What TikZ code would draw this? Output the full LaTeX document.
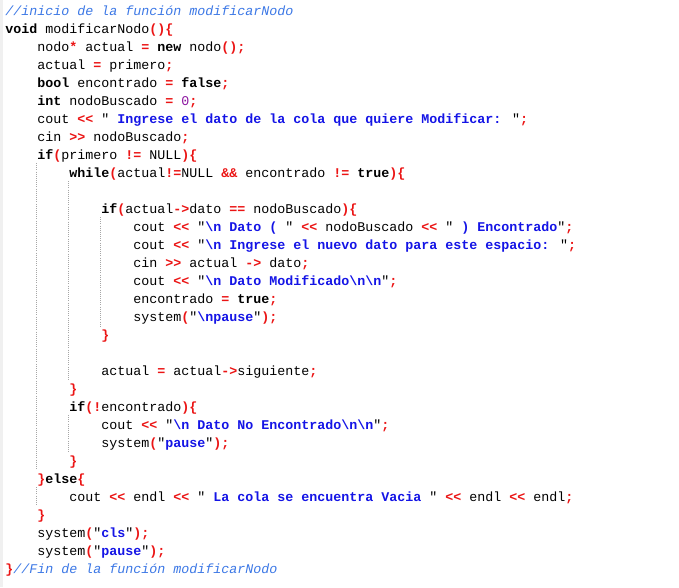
\documentclass[tikz,border=0pt]{standalone}
\usepackage{fontspec}
\newfontfamily\code{Liberation Mono}
\definecolor{cmt}{RGB}{60,120,230}
\definecolor{opr}{RGB}{235,20,20}
\definecolor{strc}{RGB}{20,20,230}
\definecolor{numc}{RGB}{140,20,160}
\newcommand{\op}[1]{{\color{opr}\bfseries #1}}
\newcommand{\kw}[1]{{\bfseries #1}}
\newcommand{\st}[1]{"{\color{strc}\bfseries #1}"}
\newcommand{\cm}[1]{{\color{cmt}\itshape #1}}
\newcommand{\bsl}{\textbackslash}
\newcommand{\ltlt}{<\kern0pt<}
\newcommand{\gtgt}{>\kern0pt>}
\newcommand{\codeline}[3]{\node[ln] (l#1) at ({5+8*#2},{15+18*(#1-1)}) {#3};}
\tikzset{ln/.style={anchor=base west,inner sep=0pt,font=\code\fontsize{10}{12}\selectfont},
guide/.style={draw=gray!70,densely dotted,line width=0.6pt}}
\begin{document}
\begin{tikzpicture}[x=0.75pt,y=-0.75pt]
\useasboundingbox[fill=white] (0,0) rectangle (679,587);
\fill[gray!12] (0,0) rectangle (3,587);
\codeline{1}{0}{\cm{//inicio de la función modificarNodo}}
\codeline{2}{0}{\kw{void} modificarNodo\op{()\{}}
\codeline{3}{4}{nodo\op{*} actual \op{=} \kw{new} nodo\op{();}}
\codeline{4}{4}{actual \op{=} primero\op{;}}
\codeline{5}{4}{\kw{bool} encontrado \op{=} \kw{false}\op{;}}
\codeline{6}{4}{\kw{int} nodoBuscado \op{=} {\color{numc}0}\op{;}}
\codeline{7}{4}{cout \op{\ltlt} \st{ Ingrese el dato de la cola que quiere Modificar: }\op{;}}
\codeline{8}{4}{cin \op{\gtgt} nodoBuscado\op{;}}
\codeline{9}{4}{\kw{if}\op{(}primero \op{!=} NULL\op{)\{}}
\codeline{10}{8}{\kw{while}\op{(}actual\op{!=}NULL \op{\&\&} encontrado \op{!=} \kw{true}\op{)\{}}
\codeline{12}{12}{\kw{if}\op{(}actual\op{->}dato \op{==} nodoBuscado\op{)\{}}
\codeline{13}{16}{cout \op{\ltlt} \st{\bsl n Dato ( } \op{\ltlt} nodoBuscado \op{\ltlt} \st{ ) Encontrado}\op{;}}
\codeline{14}{16}{cout \op{\ltlt} \st{\bsl n Ingrese el nuevo dato para este espacio: }\op{;}}
\codeline{15}{16}{cin \op{\gtgt} actual \op{->} dato\op{;}}
\codeline{16}{16}{cout \op{\ltlt} \st{\bsl n Dato Modificado\bsl n\bsl n}\op{;}}
\codeline{17}{16}{encontrado \op{=} \kw{true}\op{;}}
\codeline{18}{16}{system\op{(}\st{\bsl npause}\op{);}}
\codeline{19}{12}{\op{\}}}
\codeline{21}{12}{actual \op{=} actual\op{->}siguiente\op{;}}
\codeline{22}{8}{\op{\}}}
\codeline{23}{8}{\kw{if}\op{(!}encontrado\op{)\{}}
\codeline{24}{12}{cout \op{\ltlt} \st{\bsl n Dato No Encontrado\bsl n\bsl n}\op{;}}
\codeline{25}{12}{system\op{(}\st{pause}\op{);}}
\codeline{26}{8}{\op{\}}}
\codeline{27}{4}{\op{\}}\kw{else}\op{\{}}
\codeline{28}{8}{cout \op{\ltlt} endl \op{\ltlt} \st{ La cola se encuentra Vacia } \op{\ltlt} endl \op{\ltlt} endl\op{;}}
\codeline{29}{4}{\op{\}}}
\codeline{30}{4}{system\op{(}\st{cls}\op{);}}
\codeline{31}{4}{system\op{(}\st{pause}\op{);}}
\codeline{32}{0}{\op{\}}\cm{//Fin de la función modificarNodo}}
\coordinate (g1a) at (36,163); \coordinate (g1b) at (36,470);
\coordinate (g1c) at (36,487); \coordinate (g1d) at (36,506);
\coordinate (g2a) at (68,181); \coordinate (g2b) at (68,380);
\coordinate (g3a) at (100,217); \coordinate (g3b) at (100,326);
\coordinate (g4a) at (68,415); \coordinate (g4b) at (68,452);
\draw[guide] (g1a) -- (g1b); \draw[guide] (g1c) -- (g1d);
\draw[guide] (g2a) -- (g2b); \draw[guide] (g3a) -- (g3b);
\draw[guide] (g4a) -- (g4b);
\end{tikzpicture}
\end{document}
